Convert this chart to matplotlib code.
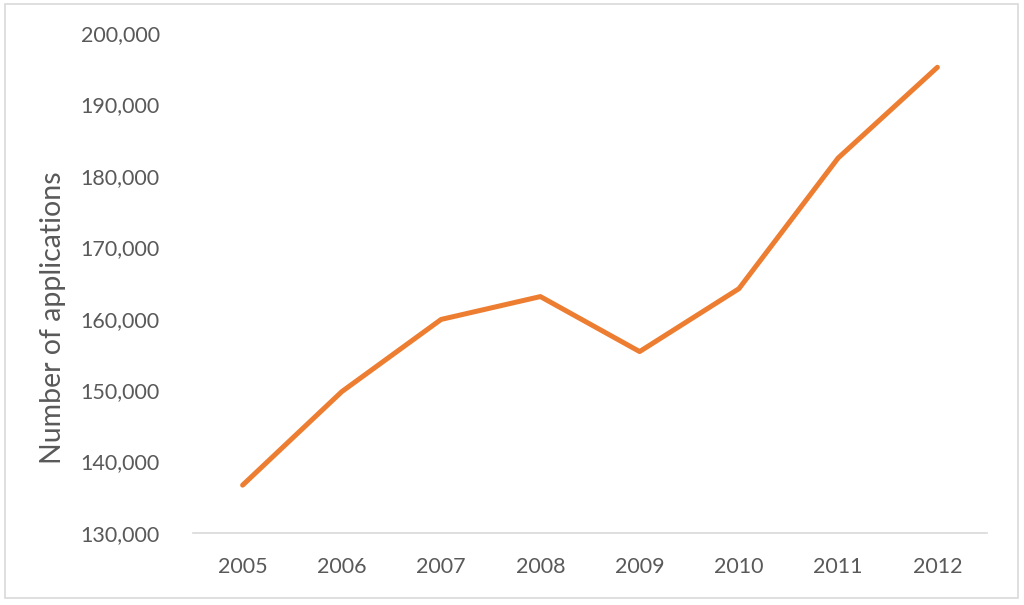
import matplotlib
matplotlib.use("Agg")
import matplotlib.pyplot as plt
from matplotlib.patches import Rectangle
from matplotlib.ticker import FuncFormatter

# --- Data ---
years = ["2005", "2006", "2007", "2008", "2009", "2010", "2011", "2012"]
applications = [136700, 149800, 159900, 163100, 155400, 164200, 182500, 195200]

TEXT = "#595959"
ORANGE = "#ED7D31"

plt.rcParams["font.family"] = ["Lato", "DejaVu Sans"]

fig = plt.figure(figsize=(10.24, 6.05), dpi=100)
ax = fig.add_axes([193 / 1024, 1 - 533 / 605, (987 - 193) / 1024, (533 - 33) / 605])

x = range(len(years))
ax.plot(x, applications, color=ORANGE, lw=3.6, solid_capstyle="round", solid_joinstyle="round")

ax.set_xlim(-0.5, len(years) - 0.5)
ax.set_ylim(130000, 200000)
ax.set_yticks(range(130000, 200001, 10000))
ax.yaxis.set_major_formatter(FuncFormatter(lambda v, p: f"{int(v):,}"))
ax.set_xticks(list(x))
ax.set_xticklabels(years)

for side in ("top", "right", "left"):
    ax.spines[side].set_visible(False)
ax.spines["bottom"].set_color("#D9D9D9")
ax.spines["bottom"].set_linewidth(1.2)
ax.tick_params(length=0, labelsize=15.5, colors=TEXT)
ax.tick_params(axis="x", pad=17)
ax.tick_params(axis="y", pad=24)
ax.set_ylabel("Number of applications", fontsize=20.5, color=TEXT)
# label sits a little below the axes centre in the reference
ax.yaxis.set_label_coords(-0.16, 0.43)

# outer chart border
fig.patches.append(Rectangle((5 / 1024, 1 - 598 / 605), 1013 / 1024, 594 / 605,
                             transform=fig.transFigure, fill=False,
                             edgecolor="#D9D9D9", lw=1.2))

fig.savefig("out.png", dpi=100)
